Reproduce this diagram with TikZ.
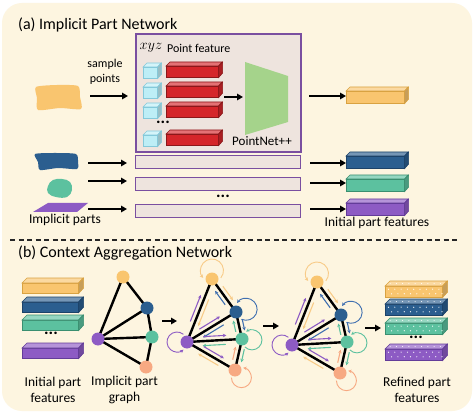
\documentclass[tikz,border=0pt]{standalone}
\usepackage{fontspec}
\setmainfont{Carlito}
\usetikzlibrary{calc,arrows.meta}
\definecolor{cream}{HTML}{FDF5E0}
\definecolor{cyel}{HTML}{F9C56F}
\definecolor{cyelD}{HTML}{D9A241}
\definecolor{cyelL}{HTML}{F8CB88}
\definecolor{cblu}{HTML}{2B5E8F}
\definecolor{cbluD}{HTML}{1C4269}
\definecolor{cbluL}{HTML}{3F6FB0}
\definecolor{cgrn}{HTML}{5CC19F}
\definecolor{cgrnD}{HTML}{3A8F70}
\definecolor{cpur}{HTML}{8D5BC4}
\definecolor{cpurD}{HTML}{633C99}
\definecolor{corg}{HTML}{F7A982}
\definecolor{cred}{HTML}{D5262A}
\definecolor{credD}{HTML}{8C1719}
\definecolor{ccyan}{HTML}{BDEEF6}
\definecolor{ccyanD}{HTML}{84C9DA}
\definecolor{ctrap}{HTML}{A5D38B}
\definecolor{cbox}{HTML}{EEE4DE}
\definecolor{cboxD}{HTML}{7A4FA0}
\tikzset{
 arr/.style={line width=1.7pt, -{Triangle[length=6pt,width=6.5pt]}},
 earrow/.style={line width=1.1pt, -{Stealth[length=3.5pt,width=3.5pt]}},
 loopst/.style={line width=0.9pt, -{Stealth[length=3.5pt,width=3.5pt]}},
 gedge/.style={line width=2.4pt, black},
 gnode/.style={circle, minimum size=13pt, inner sep=0pt},
 rowbox/.style={draw=cboxD, fill=cbox, line width=1.4pt, minimum width=165pt, minimum height=13pt, inner sep=0pt, anchor=north west},
 lbl/.style={font=\fontsize{13.5}{16}\selectfont, align=center, inner sep=0pt},
 small/.style={font=\fontsize{12}{15}\selectfont, align=center, inner sep=0pt},
 ttl/.style={font=\fontsize{16}{19}\selectfont, inner sep=0pt, anchor=west},
 dotsl/.style={font=\fontsize{17}{17}\selectfont\bfseries, inner sep=0pt},
}
% name, x, y (front top-left), w, h, d, fill, draw
\newcommand{\myprism}[8]{%
 \node[draw=#8, fill=#7, line width=0.6pt, minimum width=#4pt, minimum height=#5pt, inner sep=0pt, anchor=north west] (#1) at (#2,#3) {};
 \filldraw[draw=#8, fill=#7!65!white, line width=0.6pt] (#1.north west) -- ++(#6,-#6) -- ++(#4,0) -- (#1.north east) -- cycle;
 \filldraw[draw=#8, fill=#7!80!black, line width=0.6pt] (#1.north east) -- ++(#6,-#6) -- ++(0,#5) -- (#1.south east) -- cycle;
}
\newcommand{\dotsbar}[1]{%
 \foreach \i in {0,...,8} {
  \fill[white] ($(#1.north west)+(3.5+6.3*\i,3.2)$) circle[radius=0.6pt];
  \fill[white] ($(#1.north west)+(6.6+6.3*\i,7.8)$) circle[radius=0.6pt];
  \fill[white] ($(#1.north west)+(5+6.3*\i,-2.5)$) circle[radius=0.5pt];
 }
}
% coord, direction, color, radius, centre distance
\newcommand{\nodeloop}[5]{%
 \draw[loopst, #3] ($(#1)+(#2:#5pt)+(#2+230:#4pt)$) arc[start angle=#2+230, end angle=#2+490, radius=#4pt];
}
\newcommand{\edgearrows}[4]{%
 \draw[earrow,#3] ($(#1)!0.3!(#2)!4.5pt!90:(#2)$) -- ($(#1)!0.72!(#2)!4.5pt!90:(#2)$);
 \draw[earrow,#4] ($(#2)!0.3!(#1)!4.5pt!90:(#1)$) -- ($(#2)!0.72!(#1)!4.5pt!90:(#1)$);
}
\newcommand{\agggraph}[3]{%
 \begin{scope}[shift={(#2,#3)}]
  \coordinate (#1y) at (212,279);
  \coordinate (#1b) at (236,312);
  \coordinate (#1g) at (242,339);
  \coordinate (#1p) at (187,342);
  \coordinate (#1o) at (235,370);
 \end{scope}
 \nodeloop{#1y}{90}{cyelL}{11.5}{8.5}
 \nodeloop{#1b}{15}{cbluL}{11}{10.5}
 \nodeloop{#1g}{-5}{cgrn}{10}{10}
 \nodeloop{#1p}{180}{cpur}{10}{10}
 \nodeloop{#1o}{-50}{corg}{10}{10}
 \edgearrows{#1y}{#1p}{cyelL}{cpur}
 \edgearrows{#1b}{#1y}{cbluL}{cyelL}
 \edgearrows{#1p}{#1b}{cpur}{cbluL}
 \edgearrows{#1g}{#1p}{cgrn}{cpur}
 \edgearrows{#1p}{#1o}{cpur}{cyelL}
 \edgearrows{#1b}{#1g}{cbluL}{cgrn}
 \edgearrows{#1g}{#1o}{cgrn}{corg}
 \draw[gedge] (#1p) -- (#1y) -- (#1b) -- (#1g) -- (#1o) -- (#1p) -- (#1b);
 \draw[gedge] (#1p) -- (#1g);
 \node[gnode, fill=cyel] (#1Y) at (#1y) {};
 \node[gnode, fill=cblu] (#1B) at (#1b) {};
 \node[gnode, fill=cgrn] (#1G) at (#1g) {};
 \node[gnode, fill=cpur] (#1P) at (#1p) {};
 \node[gnode, fill=corg] (#1O) at (#1o) {};
}
\begin{document}
\begin{tikzpicture}[x=1pt,y=-1pt]
\useasboundingbox (0,0) rectangle (474,414);
\fill[white] (0,0) rectangle (474,414);
\fill[cream, rounded corners=20pt] (2,3) rectangle (472,411);

% ---------- (a) ----------
\node[ttl] (ta) at (18,25) {(a) Implicit Part Network};
\node[draw=cboxD, fill=cbox, line width=1.6pt, minimum width=165pt, minimum height=118pt, inner sep=0pt, anchor=north west] (pbox) at (135,33) {};
\node[rowbox] (r1) at (135,155) {};
\node[rowbox] (r2) at (135,177) {};
\node[rowbox] (r3) at (135,204) {};

\node[inner sep=0pt, font=\fontsize{13.5}{15}\selectfont] (xyz) at (151,48) {$xyz$};
\node[small, anchor=west] (pf) at (167,48) {Point feature};
\myprism{c1}{143}{67}{14}{11}{4}{ccyan}{ccyanD}
\myprism{c2}{143}{87}{14}{11}{4}{ccyan}{ccyanD}
\myprism{c3}{143}{107}{14}{11}{4}{ccyan}{ccyanD}
\myprism{c4}{143}{135}{14}{11}{4}{ccyan}{ccyanD}
\myprism{f1}{166}{66}{52}{11}{4}{cred}{credD}
\myprism{f2}{166}{86}{52}{11}{4}{cred}{credD}
\myprism{f3}{166}{106}{52}{11}{4}{cred}{credD}
\myprism{f4}{166}{134}{52}{11}{4}{cred}{credD}
\node[dotsl] (d1) at (163,122) {...};
\fill[ctrap] (245,62) -- (288,76) -- (288,122) -- (245,135) -- cycle;
\node[inner sep=0pt, font=\fontsize{13}{14}\selectfont] (pn) at (262,141) {PointNet++};
\coordinate (ia) at (224,97); \coordinate (ib) at (243,97);
\draw[arr] (ia) -- (ib);

\node[small] (sp) at (105,72) {sample\\points};
\coordinate (sa) at (90,96); \coordinate (sb) at (128,96);
\draw[arr] (sa) -- (sb);

% blobs
\fill[cyel] plot[smooth cycle, tension=0.4] coordinates {(36,87) (57,85) (78,86) (80,97) (81,109) (60,108) (38,110) (37,98)};
\fill[cblu] plot[smooth cycle, tension=0.4] coordinates {(35,154) (55,153) (76,154) (78,162) (77,169) (58,168) (40,170) (38,162)};
\fill[cgrn] plot[smooth cycle, tension=0.7] coordinates {(48,186) (53,180) (62,179) (70,182) (72,190) (67,197) (56,197) (48,193)};
\fill[cpur] (33,212) -- (48,203) -- (88,203) -- (77,212) -- cycle;
\node[lbl] (ip) at (65,220) {Implicit parts};

\coordinate (la1) at (88,163); \coordinate (lb1) at (127,163);
\coordinate (la2) at (88,181); \coordinate (lb2) at (127,181);
\coordinate (la3) at (88,209); \coordinate (lb3) at (127,209);
\draw[arr] (la1) -- (lb1);
\draw[arr] (la2) -- (lb2);
\draw[arr] (la3) -- (lb3);
\node[dotsl] (d2) at (223,196) {...};

% output bars
\myprism{o1}{346}{91}{58}{12}{4}{cyel}{cyelD}
\myprism{o2}{346}{156}{58}{12}{4}{cblu}{cbluD}
\myprism{o3}{346}{179}{58}{12}{4}{cgrn}{cgrnD}
\myprism{o4}{346}{203}{58}{12}{4}{cpur}{cpurD}
\coordinate (ra0) at (309,96);
\coordinate (ra1) at (310,163);
\coordinate (ra2) at (310,183);
\coordinate (ra3) at (310,209);
\draw[arr] (ra0) -- (ra0 -| o1.west) ;
\draw[arr] (ra1) -- (ra1 -| o2.west);
\draw[arr] (ra2) -- (ra2 -| o3.west);
\draw[arr] (ra3) -- (ra3 -| o4.west);
\node[lbl] (ipf) at (377,223) {Initial part features};

% divider
\draw[line width=1.1pt, black!85, dash pattern=on 5pt off 3.5pt] (10,240) -- (458,240);

% ---------- (b) ----------
\node[ttl] (tb) at (18,253) {(b) Context Aggregation Network};
\myprism{i1}{22}{283}{56}{10}{5}{cyel}{cyelD}
\myprism{i2}{22}{302}{56}{10}{5}{cblu}{cbluD}
\myprism{i3}{22}{320}{56}{10}{5}{cgrn}{cgrnD}
\myprism{i4}{22}{348}{56}{10}{5}{cpur}{cpurD}
\node[dotsl] (d3) at (51,333) {...};
\node[lbl] (l1) at (53,390) {Initial part\\features};

% implicit part graph
\coordinate (ay) at (123,277);
\coordinate (ab) at (147,308);
\coordinate (ag) at (152,337);
\coordinate (ap) at (98,339);
\coordinate (ao) at (146,367);
\draw[gedge] (ap) -- (ay) -- (ab) -- (ag) -- (ao) -- (ap) -- (ab);
\draw[gedge] (ap) -- (ag);
\node[gnode, fill=cyel] (aY) at (ay) {};
\node[gnode, fill=cblu] (aB) at (ab) {};
\node[gnode, fill=cgrn] (aG) at (ag) {};
\node[gnode, fill=cpur] (aP) at (ap) {};
\node[gnode, fill=corg] (aO) at (ao) {};
\node[lbl] (l2) at (124.5,390) {Implicit part\\graph};

\coordinate (ba1) at (162,321); \coordinate (bb1) at (177,321);
\draw[arr] (ba1) -- (bb1);
\agggraph{g}{0}{0}
\coordinate (ba2) at (263,326); \coordinate (bb2) at (279,326);
\draw[arr] (ba2) -- (bb2);
\agggraph{h}{105}{3}
\coordinate (ba3) at (365,328); \coordinate (bb3) at (381,328);
\draw[arr] (ba3) -- (bb3);

\myprism{q1}{385}{286}{57}{11}{5}{cyel}{cyelD}
\myprism{q2}{385}{304}{57}{11}{5}{cblu}{cbluD}
\myprism{q3}{385}{323}{57}{11}{5}{cgrn}{cgrnD}
\myprism{q4}{385}{349}{57}{11}{5}{cpur}{cpurD}
\dotsbar{q1}\dotsbar{q2}\dotsbar{q3}\dotsbar{q4}
\node[dotsl] (d4) at (416,337) {...};
\node[lbl] (l3) at (417,390) {Refined part\\features};
\end{tikzpicture}
\end{document}
